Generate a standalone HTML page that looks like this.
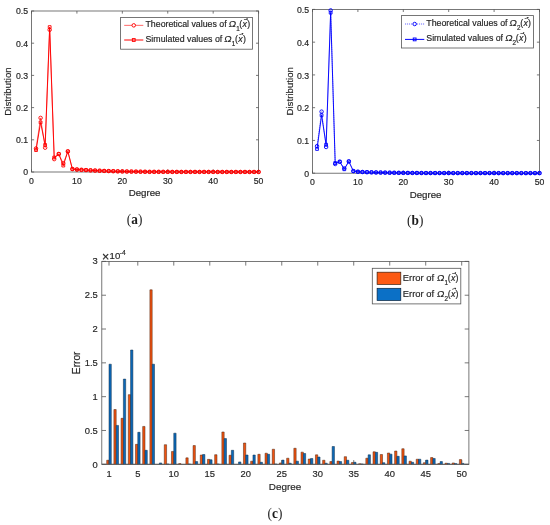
<!DOCTYPE html>
<html lang="en"><head><meta charset="utf-8"><title>Figure</title>
<style>html,body{margin:0;padding:0;background:#fff}svg{display:block}</style></head><body>
<svg width="550" height="525" viewBox="0 0 550 525">
<rect width="550" height="525" fill="#fff"/>
<rect x="31.5" y="11" width="227.1" height="161" fill="#fff" stroke="#555555" stroke-width="0.8"/>
<path d="M31.5 172v-2.6M31.5 11v2.6M31.5 172h2.6M258.6 172h-2.6M76.92 172v-2.6M76.92 11v2.6M31.5 139.8h2.6M258.6 139.8h-2.6M122.34 172v-2.6M122.34 11v2.6M31.5 107.6h2.6M258.6 107.6h-2.6M167.76 172v-2.6M167.76 11v2.6M31.5 75.4h2.6M258.6 75.4h-2.6M213.18 172v-2.6M213.18 11v2.6M31.5 43.2h2.6M258.6 43.2h-2.6M258.6 172v-2.6M258.6 11v2.6M31.5 11h2.6M258.6 11h-2.6" stroke="#555555" stroke-width="0.8" fill="none"/>
<g font-family='"Liberation Sans", "DejaVu Sans", sans-serif' font-size="8.7" fill="#262626" stroke="#262626" stroke-width="0.18">
<text x="31.5" y="184" text-anchor="middle">0</text>
<text x="76.92" y="184" text-anchor="middle">10</text>
<text x="122.34" y="184" text-anchor="middle">20</text>
<text x="167.76" y="184" text-anchor="middle">30</text>
<text x="213.18" y="184" text-anchor="middle">40</text>
<text x="258.6" y="184" text-anchor="middle">50</text>
<text x="28" y="175.41" text-anchor="end">0</text>
<text x="28" y="143.21" text-anchor="end">0.1</text>
<text x="28" y="111.01" text-anchor="end">0.2</text>
<text x="28" y="78.81" text-anchor="end">0.3</text>
<text x="28" y="46.61" text-anchor="end">0.4</text>
<text x="28" y="14.41" text-anchor="end">0.5</text>
</g>
<text x="144.6" y="195.8" text-anchor="middle" font-family='"Liberation Sans", "DejaVu Sans", sans-serif' font-size="9.7" fill="#262626" stroke="#262626" stroke-width="0.18">Degree</text>
<text transform="translate(11.2 91.5) rotate(-90)" text-anchor="middle" font-family='"Liberation Sans", "DejaVu Sans", sans-serif' font-size="9.7" fill="#262626" stroke="#262626" stroke-width="0.18">Distribution</text>
<g fill="none" stroke="#ff0000" stroke-linejoin="round">
<polyline points="36.04,148.49 40.58,117.9 45.13,147.69 49.67,29.8 54.21,159.12 58.75,153.97 63.29,163.31 67.84,151.39 72.38,169.04 76.92,169.49 81.46,169.81 86,170.07 90.55,170.33 95.09,170.55 99.63,170.74 104.17,170.91 108.71,171.07 113.26,171.19 117.8,171.32 122.34,171.42 126.88,171.52 131.42,171.58 135.97,171.65 140.51,171.71 145.05,171.77 149.59,171.84 154.13,171.84 158.68,171.84 163.22,171.84 167.76,171.84 172.3,171.9 176.84,171.9 181.39,171.9 185.93,171.9 190.47,171.9 195.01,171.9 199.55,171.9 204.1,171.9 208.64,171.9 213.18,171.9 217.72,171.94 222.26,171.94 226.81,171.94 231.35,171.94 235.89,171.94 240.43,171.94 244.97,171.94 249.52,171.94 254.06,171.94 258.6,171.94" stroke-width="0.5"/>
<polyline points="36.04,150.1 40.58,122.41 45.13,144.95 49.67,27.1 54.21,157.51 58.75,153.97 63.29,165.56 67.84,151.39 72.38,169.04 76.92,169.49 81.46,169.81 86,170.07 90.55,170.33 95.09,170.55 99.63,170.74 104.17,170.91 108.71,171.07 113.26,171.19 117.8,171.32 122.34,171.42 126.88,171.52 131.42,171.58 135.97,171.65 140.51,171.71 145.05,171.77 149.59,171.84 154.13,171.84 158.68,171.84 163.22,171.84 167.76,171.84 172.3,171.9 176.84,171.9 181.39,171.9 185.93,171.9 190.47,171.9 195.01,171.9 199.55,171.9 204.1,171.9 208.64,171.9 213.18,171.9 217.72,171.94 222.26,171.94 226.81,171.94 231.35,171.94 235.89,171.94 240.43,171.94 244.97,171.94 249.52,171.94 254.06,171.94 258.6,171.94" stroke-width="0.95"/>
<g stroke-width="0.9">
<circle cx="36.04" cy="148.49" r="1.75"/>
<circle cx="40.58" cy="117.9" r="1.75"/>
<circle cx="45.13" cy="147.69" r="1.75"/>
<circle cx="49.67" cy="29.8" r="1.75"/>
<circle cx="54.21" cy="159.12" r="1.75"/>
<circle cx="58.75" cy="153.97" r="1.75"/>
<circle cx="63.29" cy="163.31" r="1.75"/>
<circle cx="67.84" cy="151.39" r="1.75"/>
<circle cx="72.38" cy="169.04" r="1.75"/>
<circle cx="76.92" cy="169.49" r="1.75"/>
<circle cx="81.46" cy="169.81" r="1.75"/>
<circle cx="86" cy="170.07" r="1.75"/>
<circle cx="90.55" cy="170.33" r="1.75"/>
<circle cx="95.09" cy="170.55" r="1.75"/>
<circle cx="99.63" cy="170.74" r="1.75"/>
<circle cx="104.17" cy="170.91" r="1.75"/>
<circle cx="108.71" cy="171.07" r="1.75"/>
<circle cx="113.26" cy="171.19" r="1.75"/>
<circle cx="117.8" cy="171.32" r="1.75"/>
<circle cx="122.34" cy="171.42" r="1.75"/>
<circle cx="126.88" cy="171.52" r="1.75"/>
<circle cx="131.42" cy="171.58" r="1.75"/>
<circle cx="135.97" cy="171.65" r="1.75"/>
<circle cx="140.51" cy="171.71" r="1.75"/>
<circle cx="145.05" cy="171.77" r="1.75"/>
<circle cx="149.59" cy="171.84" r="1.75"/>
<circle cx="154.13" cy="171.84" r="1.75"/>
<circle cx="158.68" cy="171.84" r="1.75"/>
<circle cx="163.22" cy="171.84" r="1.75"/>
<circle cx="167.76" cy="171.84" r="1.75"/>
<circle cx="172.3" cy="171.9" r="1.75"/>
<circle cx="176.84" cy="171.9" r="1.75"/>
<circle cx="181.39" cy="171.9" r="1.75"/>
<circle cx="185.93" cy="171.9" r="1.75"/>
<circle cx="190.47" cy="171.9" r="1.75"/>
<circle cx="195.01" cy="171.9" r="1.75"/>
<circle cx="199.55" cy="171.9" r="1.75"/>
<circle cx="204.1" cy="171.9" r="1.75"/>
<circle cx="208.64" cy="171.9" r="1.75"/>
<circle cx="213.18" cy="171.9" r="1.75"/>
<circle cx="217.72" cy="171.94" r="1.75"/>
<circle cx="222.26" cy="171.94" r="1.75"/>
<circle cx="226.81" cy="171.94" r="1.75"/>
<circle cx="231.35" cy="171.94" r="1.75"/>
<circle cx="235.89" cy="171.94" r="1.75"/>
<circle cx="240.43" cy="171.94" r="1.75"/>
<circle cx="244.97" cy="171.94" r="1.75"/>
<circle cx="249.52" cy="171.94" r="1.75"/>
<circle cx="254.06" cy="171.94" r="1.75"/>
<circle cx="258.6" cy="171.94" r="1.75"/>
<rect x="34.64" y="148.7" width="2.8" height="2.8"/>
<rect x="39.18" y="121.01" width="2.8" height="2.8"/>
<rect x="43.73" y="143.55" width="2.8" height="2.8"/>
<rect x="48.27" y="25.7" width="2.8" height="2.8"/>
<rect x="52.81" y="156.11" width="2.8" height="2.8"/>
<rect x="57.35" y="152.57" width="2.8" height="2.8"/>
<rect x="61.89" y="164.16" width="2.8" height="2.8"/>
<rect x="66.44" y="149.99" width="2.8" height="2.8"/>
<rect x="70.98" y="167.64" width="2.8" height="2.8"/>
<rect x="75.52" y="168.09" width="2.8" height="2.8"/>
<rect x="80.06" y="168.41" width="2.8" height="2.8"/>
<rect x="84.6" y="168.67" width="2.8" height="2.8"/>
<rect x="89.15" y="168.93" width="2.8" height="2.8"/>
<rect x="93.69" y="169.15" width="2.8" height="2.8"/>
<rect x="98.23" y="169.34" width="2.8" height="2.8"/>
<rect x="102.77" y="169.51" width="2.8" height="2.8"/>
<rect x="107.31" y="169.67" width="2.8" height="2.8"/>
<rect x="111.86" y="169.79" width="2.8" height="2.8"/>
<rect x="116.4" y="169.92" width="2.8" height="2.8"/>
<rect x="120.94" y="170.02" width="2.8" height="2.8"/>
<rect x="125.48" y="170.12" width="2.8" height="2.8"/>
<rect x="130.02" y="170.18" width="2.8" height="2.8"/>
<rect x="134.57" y="170.25" width="2.8" height="2.8"/>
<rect x="139.11" y="170.31" width="2.8" height="2.8"/>
<rect x="143.65" y="170.37" width="2.8" height="2.8"/>
<rect x="148.19" y="170.44" width="2.8" height="2.8"/>
<rect x="152.73" y="170.44" width="2.8" height="2.8"/>
<rect x="157.28" y="170.44" width="2.8" height="2.8"/>
<rect x="161.82" y="170.44" width="2.8" height="2.8"/>
<rect x="166.36" y="170.44" width="2.8" height="2.8"/>
<rect x="170.9" y="170.5" width="2.8" height="2.8"/>
<rect x="175.44" y="170.5" width="2.8" height="2.8"/>
<rect x="179.99" y="170.5" width="2.8" height="2.8"/>
<rect x="184.53" y="170.5" width="2.8" height="2.8"/>
<rect x="189.07" y="170.5" width="2.8" height="2.8"/>
<rect x="193.61" y="170.5" width="2.8" height="2.8"/>
<rect x="198.15" y="170.5" width="2.8" height="2.8"/>
<rect x="202.7" y="170.5" width="2.8" height="2.8"/>
<rect x="207.24" y="170.5" width="2.8" height="2.8"/>
<rect x="211.78" y="170.5" width="2.8" height="2.8"/>
<rect x="216.32" y="170.54" width="2.8" height="2.8"/>
<rect x="220.86" y="170.54" width="2.8" height="2.8"/>
<rect x="225.41" y="170.54" width="2.8" height="2.8"/>
<rect x="229.95" y="170.54" width="2.8" height="2.8"/>
<rect x="234.49" y="170.54" width="2.8" height="2.8"/>
<rect x="239.03" y="170.54" width="2.8" height="2.8"/>
<rect x="243.57" y="170.54" width="2.8" height="2.8"/>
<rect x="248.12" y="170.54" width="2.8" height="2.8"/>
<rect x="252.66" y="170.54" width="2.8" height="2.8"/>
<rect x="257.2" y="170.54" width="2.8" height="2.8"/>
</g></g>
<rect x="120.6" y="17.5" width="131.8" height="31.7" fill="#fff" stroke="#555555" stroke-width="0.8"/>
<g fill="none" stroke="#ff0000">
<path d="M124.2 25.35H143.3" stroke-width="0.6"/>
<circle cx="133.75" cy="25.35" r="1.75" stroke-width="0.95" fill="#fff"/>
<path d="M124.2 40H143.3" stroke-width="1.0"/>
<rect x="132.35" y="38.6" width="2.8" height="2.8" stroke-width="0.95"/>
</g>
<g font-family='"Liberation Sans", "DejaVu Sans", sans-serif' font-size="8.8" fill="#262626" stroke="#262626" stroke-width="0.18"><text x="145.5" y="26.95">Theoretical values of</text><text x="228.74" y="26.95" font-style="italic" font-size="9.6">Ω</text><text x="236.14" y="31.05" font-size="6.3">1</text><text x="239.35" y="26.95" font-size="8.8">(</text><text x="242.58" y="26.95" font-size="8.8" font-style="italic">x</text><text transform="translate(242.98 21.05) rotate(-12)" font-size="6.4" font-weight="bold" stroke="#262626" stroke-width="0.3">→</text><text x="247.28" y="26.95" font-size="8.8">)</text></g>
<g font-family='"Liberation Sans", "DejaVu Sans", sans-serif' font-size="8.8" fill="#262626" stroke="#262626" stroke-width="0.18"><text x="145.5" y="41.6">Simulated values of</text><text x="224.34" y="41.6" font-style="italic" font-size="9.6">Ω</text><text x="231.74" y="45.7" font-size="6.3">1</text><text x="234.95" y="41.6" font-size="8.8">(</text><text x="238.18" y="41.6" font-size="8.8" font-style="italic">x</text><text transform="translate(238.58 35.7) rotate(-12)" font-size="6.4" font-weight="bold" stroke="#262626" stroke-width="0.3">→</text><text x="242.88" y="41.6" font-size="8.8">)</text></g>
<rect x="312.5" y="9.4" width="227" height="163.8" fill="#fff" stroke="#555555" stroke-width="0.8"/>
<path d="M312.5 173.2v-2.6M312.5 9.4v2.6M312.5 173.2h2.6M539.5 173.2h-2.6M357.9 173.2v-2.6M357.9 9.4v2.6M312.5 140.44h2.6M539.5 140.44h-2.6M403.3 173.2v-2.6M403.3 9.4v2.6M312.5 107.68h2.6M539.5 107.68h-2.6M448.7 173.2v-2.6M448.7 9.4v2.6M312.5 74.92h2.6M539.5 74.92h-2.6M494.1 173.2v-2.6M494.1 9.4v2.6M312.5 42.16h2.6M539.5 42.16h-2.6M539.5 173.2v-2.6M539.5 9.4v2.6M312.5 9.4h2.6M539.5 9.4h-2.6" stroke="#555555" stroke-width="0.8" fill="none"/>
<g font-family='"Liberation Sans", "DejaVu Sans", sans-serif' font-size="8.7" fill="#262626" stroke="#262626" stroke-width="0.18">
<text x="312.5" y="185.3" text-anchor="middle">0</text>
<text x="357.9" y="185.3" text-anchor="middle">10</text>
<text x="403.3" y="185.3" text-anchor="middle">20</text>
<text x="448.7" y="185.3" text-anchor="middle">30</text>
<text x="494.1" y="185.3" text-anchor="middle">40</text>
<text x="539.5" y="185.3" text-anchor="middle">50</text>
<text x="309" y="176.81" text-anchor="end">0</text>
<text x="309" y="144.05" text-anchor="end">0.1</text>
<text x="309" y="111.29" text-anchor="end">0.2</text>
<text x="309" y="78.53" text-anchor="end">0.3</text>
<text x="309" y="45.77" text-anchor="end">0.4</text>
<text x="309" y="13.01" text-anchor="end">0.5</text>
</g>
<text x="425.55" y="197.8" text-anchor="middle" font-family='"Liberation Sans", "DejaVu Sans", sans-serif' font-size="9.7" fill="#262626" stroke="#262626" stroke-width="0.18">Degree</text>
<text transform="translate(293 91.3) rotate(-90)" text-anchor="middle" font-family='"Liberation Sans", "DejaVu Sans", sans-serif' font-size="9.7" fill="#262626" stroke="#262626" stroke-width="0.18">Distribution</text>
<g fill="none" stroke="#0000ff" stroke-linejoin="round">
<polyline points="317.04,146.17 321.58,111.61 326.12,146.99 330.66,10.38 335.2,164.03 339.74,161.73 344.28,168.45 348.82,161.41 353.36,171.07 357.9,171.73 362.44,171.99 366.98,172.18 371.52,172.32 376.06,172.45 380.6,172.54 385.14,172.64 389.68,172.71 394.22,172.77 398.76,172.84 403.3,172.87 407.84,172.91 412.38,172.94 416.92,172.97 421.46,173 426,173.04 430.54,173.07 435.08,173.07 439.62,173.07 444.16,173.07 448.7,173.07 453.24,173.1 457.78,173.1 462.32,173.1 466.86,173.1 471.4,173.1 475.94,173.1 480.48,173.1 485.02,173.1 489.56,173.1 494.1,173.1 498.64,173.13 503.18,173.13 507.72,173.13 512.26,173.13 516.8,173.13 521.34,173.13 525.88,173.13 530.42,173.13 534.96,173.13 539.5,173.13" stroke-width="0.5" stroke-dasharray="1.1 0.9"/>
<polyline points="317.04,148.96 321.58,115.21 326.12,144.7 330.66,12.68 335.2,163.04 339.74,161.73 344.28,169.27 348.82,161.41 353.36,171.07 357.9,171.73 362.44,171.99 366.98,172.18 371.52,172.32 376.06,172.45 380.6,172.54 385.14,172.64 389.68,172.71 394.22,172.77 398.76,172.84 403.3,172.87 407.84,172.91 412.38,172.94 416.92,172.97 421.46,173 426,173.04 430.54,173.07 435.08,173.07 439.62,173.07 444.16,173.07 448.7,173.07 453.24,173.1 457.78,173.1 462.32,173.1 466.86,173.1 471.4,173.1 475.94,173.1 480.48,173.1 485.02,173.1 489.56,173.1 494.1,173.1 498.64,173.13 503.18,173.13 507.72,173.13 512.26,173.13 516.8,173.13 521.34,173.13 525.88,173.13 530.42,173.13 534.96,173.13 539.5,173.13" stroke-width="0.95"/>
<g stroke-width="0.9">
<circle cx="317.04" cy="146.17" r="1.75"/>
<circle cx="321.58" cy="111.61" r="1.75"/>
<circle cx="326.12" cy="146.99" r="1.75"/>
<circle cx="330.66" cy="10.38" r="1.75"/>
<circle cx="335.2" cy="164.03" r="1.75"/>
<circle cx="339.74" cy="161.73" r="1.75"/>
<circle cx="344.28" cy="168.45" r="1.75"/>
<circle cx="348.82" cy="161.41" r="1.75"/>
<circle cx="353.36" cy="171.07" r="1.75"/>
<circle cx="357.9" cy="171.73" r="1.75"/>
<circle cx="362.44" cy="171.99" r="1.75"/>
<circle cx="366.98" cy="172.18" r="1.75"/>
<circle cx="371.52" cy="172.32" r="1.75"/>
<circle cx="376.06" cy="172.45" r="1.75"/>
<circle cx="380.6" cy="172.54" r="1.75"/>
<circle cx="385.14" cy="172.64" r="1.75"/>
<circle cx="389.68" cy="172.71" r="1.75"/>
<circle cx="394.22" cy="172.77" r="1.75"/>
<circle cx="398.76" cy="172.84" r="1.75"/>
<circle cx="403.3" cy="172.87" r="1.75"/>
<circle cx="407.84" cy="172.91" r="1.75"/>
<circle cx="412.38" cy="172.94" r="1.75"/>
<circle cx="416.92" cy="172.97" r="1.75"/>
<circle cx="421.46" cy="173" r="1.75"/>
<circle cx="426" cy="173.04" r="1.75"/>
<circle cx="430.54" cy="173.07" r="1.75"/>
<circle cx="435.08" cy="173.07" r="1.75"/>
<circle cx="439.62" cy="173.07" r="1.75"/>
<circle cx="444.16" cy="173.07" r="1.75"/>
<circle cx="448.7" cy="173.07" r="1.75"/>
<circle cx="453.24" cy="173.1" r="1.75"/>
<circle cx="457.78" cy="173.1" r="1.75"/>
<circle cx="462.32" cy="173.1" r="1.75"/>
<circle cx="466.86" cy="173.1" r="1.75"/>
<circle cx="471.4" cy="173.1" r="1.75"/>
<circle cx="475.94" cy="173.1" r="1.75"/>
<circle cx="480.48" cy="173.1" r="1.75"/>
<circle cx="485.02" cy="173.1" r="1.75"/>
<circle cx="489.56" cy="173.1" r="1.75"/>
<circle cx="494.1" cy="173.1" r="1.75"/>
<circle cx="498.64" cy="173.13" r="1.75"/>
<circle cx="503.18" cy="173.13" r="1.75"/>
<circle cx="507.72" cy="173.13" r="1.75"/>
<circle cx="512.26" cy="173.13" r="1.75"/>
<circle cx="516.8" cy="173.13" r="1.75"/>
<circle cx="521.34" cy="173.13" r="1.75"/>
<circle cx="525.88" cy="173.13" r="1.75"/>
<circle cx="530.42" cy="173.13" r="1.75"/>
<circle cx="534.96" cy="173.13" r="1.75"/>
<circle cx="539.5" cy="173.13" r="1.75"/>
<rect x="315.64" y="147.56" width="2.8" height="2.8"/>
<rect x="320.18" y="113.81" width="2.8" height="2.8"/>
<rect x="324.72" y="143.3" width="2.8" height="2.8"/>
<rect x="329.26" y="11.28" width="2.8" height="2.8"/>
<rect x="333.8" y="161.64" width="2.8" height="2.8"/>
<rect x="338.34" y="160.33" width="2.8" height="2.8"/>
<rect x="342.88" y="167.87" width="2.8" height="2.8"/>
<rect x="347.42" y="160.01" width="2.8" height="2.8"/>
<rect x="351.96" y="169.67" width="2.8" height="2.8"/>
<rect x="356.5" y="170.33" width="2.8" height="2.8"/>
<rect x="361.04" y="170.59" width="2.8" height="2.8"/>
<rect x="365.58" y="170.78" width="2.8" height="2.8"/>
<rect x="370.12" y="170.92" width="2.8" height="2.8"/>
<rect x="374.66" y="171.05" width="2.8" height="2.8"/>
<rect x="379.2" y="171.14" width="2.8" height="2.8"/>
<rect x="383.74" y="171.24" width="2.8" height="2.8"/>
<rect x="388.28" y="171.31" width="2.8" height="2.8"/>
<rect x="392.82" y="171.37" width="2.8" height="2.8"/>
<rect x="397.36" y="171.44" width="2.8" height="2.8"/>
<rect x="401.9" y="171.47" width="2.8" height="2.8"/>
<rect x="406.44" y="171.51" width="2.8" height="2.8"/>
<rect x="410.98" y="171.54" width="2.8" height="2.8"/>
<rect x="415.52" y="171.57" width="2.8" height="2.8"/>
<rect x="420.06" y="171.6" width="2.8" height="2.8"/>
<rect x="424.6" y="171.64" width="2.8" height="2.8"/>
<rect x="429.14" y="171.67" width="2.8" height="2.8"/>
<rect x="433.68" y="171.67" width="2.8" height="2.8"/>
<rect x="438.22" y="171.67" width="2.8" height="2.8"/>
<rect x="442.76" y="171.67" width="2.8" height="2.8"/>
<rect x="447.3" y="171.67" width="2.8" height="2.8"/>
<rect x="451.84" y="171.7" width="2.8" height="2.8"/>
<rect x="456.38" y="171.7" width="2.8" height="2.8"/>
<rect x="460.92" y="171.7" width="2.8" height="2.8"/>
<rect x="465.46" y="171.7" width="2.8" height="2.8"/>
<rect x="470" y="171.7" width="2.8" height="2.8"/>
<rect x="474.54" y="171.7" width="2.8" height="2.8"/>
<rect x="479.08" y="171.7" width="2.8" height="2.8"/>
<rect x="483.62" y="171.7" width="2.8" height="2.8"/>
<rect x="488.16" y="171.7" width="2.8" height="2.8"/>
<rect x="492.7" y="171.7" width="2.8" height="2.8"/>
<rect x="497.24" y="171.73" width="2.8" height="2.8"/>
<rect x="501.78" y="171.73" width="2.8" height="2.8"/>
<rect x="506.32" y="171.73" width="2.8" height="2.8"/>
<rect x="510.86" y="171.73" width="2.8" height="2.8"/>
<rect x="515.4" y="171.73" width="2.8" height="2.8"/>
<rect x="519.94" y="171.73" width="2.8" height="2.8"/>
<rect x="524.48" y="171.73" width="2.8" height="2.8"/>
<rect x="529.02" y="171.73" width="2.8" height="2.8"/>
<rect x="533.56" y="171.73" width="2.8" height="2.8"/>
<rect x="538.1" y="171.73" width="2.8" height="2.8"/>
</g></g>
<rect x="401.4" y="15.6" width="132.1" height="32.4" fill="#fff" stroke="#555555" stroke-width="0.8"/>
<g fill="none" stroke="#0000ff">
<path d="M405 24H424.3" stroke-width="0.6" stroke-dasharray="1.1 0.9"/>
<circle cx="414.65" cy="24" r="1.75" stroke-width="0.95" fill="#fff"/>
<path d="M405 39.4H424.3" stroke-width="1.0"/>
<rect x="413.25" y="38" width="2.8" height="2.8" stroke-width="0.95"/>
</g>
<g font-family='"Liberation Sans", "DejaVu Sans", sans-serif' font-size="8.8" fill="#262626" stroke="#262626" stroke-width="0.18"><text x="426.3" y="25.6">Theoretical values of</text><text x="509.54" y="25.6" font-style="italic" font-size="9.6">Ω</text><text x="516.94" y="29.7" font-size="6.3">2</text><text x="520.15" y="25.6" font-size="8.8">(</text><text x="523.38" y="25.6" font-size="8.8" font-style="italic">x</text><text transform="translate(523.78 19.7) rotate(-12)" font-size="6.4" font-weight="bold" stroke="#262626" stroke-width="0.3">→</text><text x="528.08" y="25.6" font-size="8.8">)</text></g>
<g font-family='"Liberation Sans", "DejaVu Sans", sans-serif' font-size="8.8" fill="#262626" stroke="#262626" stroke-width="0.18"><text x="426.3" y="41">Simulated values of</text><text x="505.14" y="41" font-style="italic" font-size="9.6">Ω</text><text x="512.54" y="45.1" font-size="6.3">2</text><text x="515.75" y="41" font-size="8.8">(</text><text x="518.98" y="41" font-size="8.8" font-style="italic">x</text><text transform="translate(519.38 35.1) rotate(-12)" font-size="6.4" font-weight="bold" stroke="#262626" stroke-width="0.3">→</text><text x="523.68" y="41" font-size="8.8">)</text></g>
<g font-family='"Liberation Serif", "DejaVu Serif", serif' font-size="14.8" fill="#1c1c1c" text-anchor="middle">
<text transform="translate(134.6 224.1) scale(0.9 1)">(<tspan font-weight="bold">a</tspan>)</text>
<text transform="translate(415.2 224.6) scale(0.9 1)">(<tspan font-weight="bold">b</tspan>)</text>
<text transform="translate(275 517.8) scale(0.9 1)">(<tspan font-weight="bold">c</tspan>)</text>
</g>
<rect x="101.8" y="261.4" width="367.1" height="202.9" fill="#fff" stroke="#555555" stroke-width="0.8"/>
<g stroke-width="0.5">
<path d="M106.7 464.3V460.24H109V464.3M113.9 464.3V409.52H116.2V464.3M121.09 464.3V418.31H123.39V464.3M128.29 464.3V394.64H130.59V464.3M135.49 464.3V444.35H137.79V464.3M142.69 464.3V426.43H144.99V464.3M149.89 464.3V289.81H152.19V464.3M164.28 464.3V444.69H166.58V464.3M171.48 464.3V451.45H173.78V464.3M178.68 464.3V463.62H180.98V464.3M185.88 464.3V457.87H188.18V464.3M193.07 464.3V445.57H195.37V464.3M200.27 464.3V455.03H202.57V464.3M207.47 464.3V459.36H209.77V464.3M214.67 464.3V454.7H216.97V464.3M221.87 464.3V431.97H224.17V464.3M229.06 464.3V455.24H231.36V464.3M243.46 464.3V443H245.76V464.3M250.66 464.3V461.19H252.96V464.3M257.86 464.3V454.29H260.16V464.3M265.05 464.3V453.21H267.35V464.3M272.25 464.3V449.22H274.55V464.3M279.45 464.3V462.95H281.75V464.3M286.65 464.3V458.21H288.95V464.3M293.85 464.3V448.27H296.15V464.3M301.05 464.3V452.13H303.35V464.3M308.24 464.3V459.02H310.54V464.3M315.44 464.3V454.83H317.74V464.3M322.64 464.3V460.24H324.94V464.3M329.84 464.3V461.59H332.14V464.3M337.04 464.3V461.05H339.34V464.3M344.23 464.3V456.66H346.53V464.3M351.43 464.3V462.47H353.73V464.3M358.63 464.3V463.76H360.93V464.3M365.83 464.3V458.21H368.13V464.3M373.03 464.3V451.79H375.33V464.3M380.22 464.3V454.49H382.52V464.3M387.42 464.3V453.01H389.72V464.3M394.62 464.3V451.04H396.92V464.3M401.82 464.3V448.74H404.12V464.3M409.02 464.3V461.19H411.32V464.3M416.21 464.3V459.23H418.51V464.3M423.41 464.3V462.68H425.71V464.3M430.61 464.3V457.54H432.91V464.3M437.81 464.3V463.62H440.11V464.3M445.01 464.3V463.22H447.31V464.3M452.2 464.3V462.95H454.5V464.3M459.4 464.3V459.57H461.7V464.3" fill="#f0520f" stroke="#4a2410"/>
<path d="M109 464.3V364.2H111.3V464.3M116.2 464.3V425.41H118.5V464.3M123.39 464.3V379.08H125.69V464.3M130.59 464.3V350H132.89V464.3M137.79 464.3V432.31H140.09V464.3M144.99 464.3V450.3H147.29V464.3M152.19 464.3V364.2H154.49V464.3M159.38 464.3V462.95H161.68V464.3M166.58 464.3V463.96H168.88V464.3M173.78 464.3V433.19H176.08V464.3M188.18 464.3V463.96H190.48V464.3M195.37 464.3V461.59H197.67V464.3M202.57 464.3V454.49H204.87V464.3M209.77 464.3V459.77H212.07V464.3M216.97 464.3V463.96H219.27V464.3M224.17 464.3V438.6H226.47V464.3M231.36 464.3V450.3H233.66V464.3M238.56 464.3V461.93H240.86V464.3M245.76 464.3V455.03H248.06V464.3M252.96 464.3V455.03H255.26V464.3M260.16 464.3V462.27H262.46V464.3M267.35 464.3V454.29H269.65V464.3M274.55 464.3V463.96H276.85V464.3M281.75 464.3V460.11H284.05V464.3M288.95 464.3V463.22H291.25V464.3M296.15 464.3V461.19H298.45V464.3M303.35 464.3V453.48H305.65V464.3M310.54 464.3V458.48H312.84V464.3M317.74 464.3V457H320.04V464.3M324.94 464.3V463.22H327.24V464.3M332.14 464.3V446.51H334.44V464.3M339.34 464.3V461.59H341.64V464.3M346.53 464.3V460.24H348.83V464.3M353.73 464.3V462.27H356.03V464.3M360.93 464.3V463.96H363.23V464.3M368.13 464.3V454.83H370.43V464.3M375.33 464.3V452.33H377.63V464.3M382.52 464.3V462.68H384.82V464.3M389.72 464.3V454.16H392.02V464.3M396.92 464.3V456.32H399.22V464.3M404.12 464.3V455.91H406.42V464.3M411.32 464.3V462.27H413.62V464.3M418.51 464.3V459.23H420.81V464.3M425.71 464.3V460.11H428.01V464.3M432.91 464.3V458.48H435.21V464.3M440.11 464.3V461.59H442.41V464.3M447.31 464.3V463.42H449.61V464.3M454.5 464.3V463.62H456.8V464.3M461.7 464.3V463.42H464V464.3" fill="#0c69b8" stroke="#0a2a48"/>
</g>
<path d="M101.8 464.3H468.9" stroke="#555555" stroke-width="0.8"/>
<path d="M109 464.3v-4.2M109 261.4v4.2M137.79 464.3v-4.2M137.79 261.4v4.2M173.78 464.3v-4.2M173.78 261.4v4.2M209.77 464.3v-4.2M209.77 261.4v4.2M245.76 464.3v-4.2M245.76 261.4v4.2M281.75 464.3v-4.2M281.75 261.4v4.2M317.74 464.3v-4.2M317.74 261.4v4.2M353.73 464.3v-4.2M353.73 261.4v4.2M389.72 464.3v-4.2M389.72 261.4v4.2M425.71 464.3v-4.2M425.71 261.4v4.2M461.7 464.3v-4.2M461.7 261.4v4.2M101.8 464.3h4.2M468.9 464.3h-4.2M101.8 430.48h4.2M468.9 430.48h-4.2M101.8 396.67h4.2M468.9 396.67h-4.2M101.8 362.85h4.2M468.9 362.85h-4.2M101.8 329.03h4.2M468.9 329.03h-4.2M101.8 295.22h4.2M468.9 295.22h-4.2M101.8 261.4h4.2M468.9 261.4h-4.2" stroke="#555555" stroke-width="0.8" fill="none"/>
<g font-family='"Liberation Sans", "DejaVu Sans", sans-serif' font-size="9.4" fill="#262626" stroke="#262626" stroke-width="0.18">
<text x="109" y="477.2" text-anchor="middle">1</text>
<text x="137.79" y="477.2" text-anchor="middle">5</text>
<text x="173.78" y="477.2" text-anchor="middle">10</text>
<text x="209.77" y="477.2" text-anchor="middle">15</text>
<text x="245.76" y="477.2" text-anchor="middle">20</text>
<text x="281.75" y="477.2" text-anchor="middle">25</text>
<text x="317.74" y="477.2" text-anchor="middle">30</text>
<text x="353.73" y="477.2" text-anchor="middle">35</text>
<text x="389.72" y="477.2" text-anchor="middle">40</text>
<text x="425.71" y="477.2" text-anchor="middle">45</text>
<text x="461.7" y="477.2" text-anchor="middle">50</text>
<text x="97.8" y="468.07" text-anchor="end">0</text>
<text x="97.8" y="433.55" text-anchor="end">0.5</text>
<text x="97.8" y="399.73" text-anchor="end">1</text>
<text x="97.8" y="365.92" text-anchor="end">1.5</text>
<text x="97.8" y="332.1" text-anchor="end">2</text>
<text x="97.8" y="298.28" text-anchor="end">2.5</text>
<text x="97.8" y="264.47" text-anchor="end">3</text>
<text x="102.0" y="260.5" font-size="12.5">×</text><text x="109.6" y="258.6" font-size="9.6">10</text><text x="119.7" y="254.7" font-size="6.7">-4</text>
</g>
<text x="285" y="490" text-anchor="middle" font-family='"Liberation Sans", "DejaVu Sans", sans-serif' font-size="9.9" fill="#262626" stroke="#262626" stroke-width="0.18">Degree</text>
<text transform="translate(80.4 362.85) rotate(-90)" text-anchor="middle" font-family='"Liberation Sans", "DejaVu Sans", sans-serif' font-size="10.2" fill="#262626" stroke="#262626" stroke-width="0.18">Error</text>
<rect x="372.3" y="268.3" width="88.5" height="35.6" fill="#fff" stroke="#555555" stroke-width="0.8"/>
<rect x="377.1" y="272.2" width="23.7" height="12.2" fill="#fc5a14" stroke="#3a1c0c" stroke-width="0.7"/>
<rect x="377.1" y="288.3" width="23.7" height="12.2" fill="#0b70c6" stroke="#08223c" stroke-width="0.7"/>
<g font-family='"Liberation Sans", "DejaVu Sans", sans-serif' font-size="9.4" fill="#262626" stroke="#262626" stroke-width="0.18"><text x="402.8" y="280.8">Error of</text><text x="437.05" y="280.8" font-style="italic" font-size="9.6">Ω</text><text x="444.45" y="284.9" font-size="6.3">1</text><text x="447.66" y="280.8" font-size="8.8">(</text><text x="450.89" y="280.8" font-size="8.8" font-style="italic">x</text><text transform="translate(451.29 274.9) rotate(-12)" font-size="6.4" font-weight="bold" stroke="#262626" stroke-width="0.3">→</text><text x="455.59" y="280.8" font-size="8.8">)</text></g>
<g font-family='"Liberation Sans", "DejaVu Sans", sans-serif' font-size="9.4" fill="#262626" stroke="#262626" stroke-width="0.18"><text x="402.8" y="296.5">Error of</text><text x="437.05" y="296.5" font-style="italic" font-size="9.6">Ω</text><text x="444.45" y="300.6" font-size="6.3">2</text><text x="447.66" y="296.5" font-size="8.8">(</text><text x="450.89" y="296.5" font-size="8.8" font-style="italic">x</text><text transform="translate(451.29 290.6) rotate(-12)" font-size="6.4" font-weight="bold" stroke="#262626" stroke-width="0.3">→</text><text x="455.59" y="296.5" font-size="8.8">)</text></g>
</svg></body></html>
